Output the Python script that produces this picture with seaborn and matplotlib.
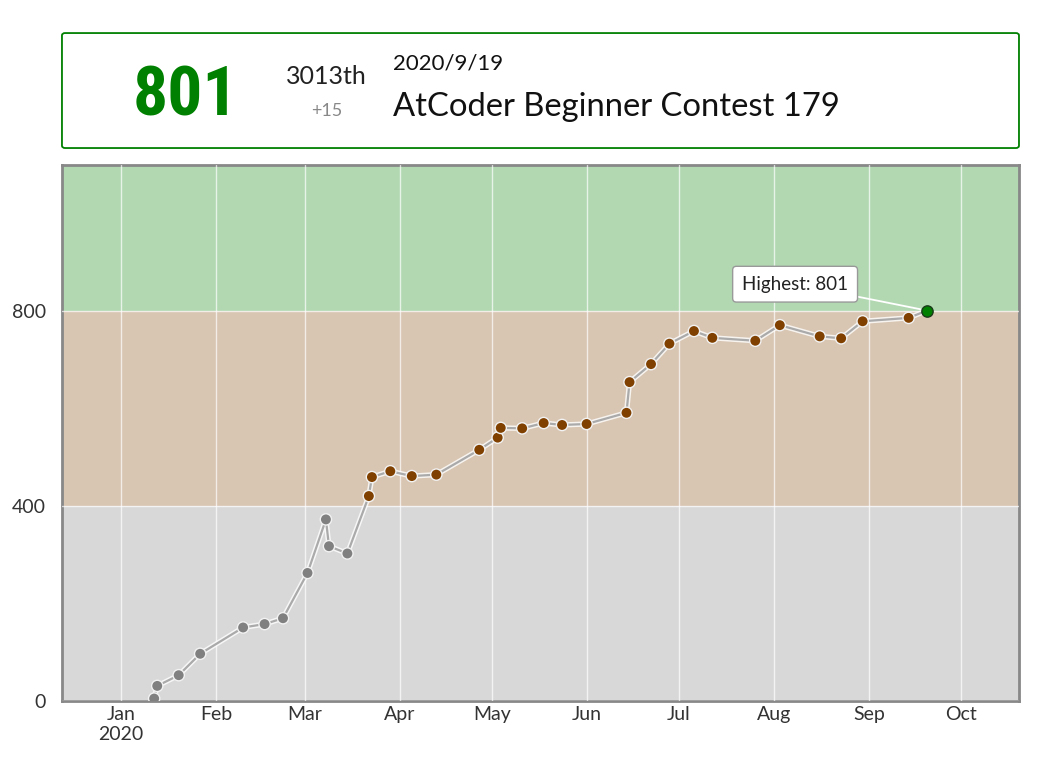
import pandas as pd
import matplotlib.pyplot as plt
import matplotlib.dates as mdates
import matplotlib.patheffects as pe
from matplotlib.patches import FancyBboxPatch
import seaborn as sns

# Contest history (date, rating)
dates = [
    "2020-01-11", "2020-01-12", "2020-01-19", "2020-01-26", "2020-02-09",
    "2020-02-16", "2020-02-22", "2020-03-01", "2020-03-07", "2020-03-08",
    "2020-03-14", "2020-03-21", "2020-03-22", "2020-03-28", "2020-04-04",
    "2020-04-12", "2020-04-26", "2020-05-02", "2020-05-03", "2020-05-10",
    "2020-05-17", "2020-05-23", "2020-05-31", "2020-06-13", "2020-06-14",
    "2020-06-21", "2020-06-27", "2020-07-05", "2020-07-11", "2020-07-25",
    "2020-08-02", "2020-08-15", "2020-08-22", "2020-08-29", "2020-09-13",
    "2020-09-19",
]
ratings = [
    4, 30, 52, 96, 150, 157, 169, 262, 372, 317,
    302, 420, 459, 471, 461, 464, 515, 540, 560, 559,
    570, 566, 568, 591, 654, 691, 733, 759, 745, 739,
    771, 748, 744, 779, 786, 801,
]

band_limits = [0, 400, 800, 1100]
band_colors = ["#d8d8d8", "#d8c5b2", "#b2d8b2"]
rank_names = ["gray", "brown", "green"]
rank_colors = {"gray": "#808080", "brown": "#804000", "green": "#008000"}

df = pd.DataFrame({
    "date": pd.to_datetime(dates) + pd.Timedelta(hours=20, minutes=30),
    "rating": ratings,
})
df["rank"] = pd.cut(df["rating"], bins=band_limits, labels=rank_names, right=False).astype(str)

sns.set_style("white")
plt.rcParams["font.family"] = ["Lato", "DejaVu Sans"]

fig = plt.figure(figsize=(10.45, 7.65), dpi=100)
ax = fig.add_axes([0.0593, 0.0843, 0.9158, 0.700])

# colour bands
for lo, hi, c in zip(band_limits[:-1], band_limits[1:], band_colors):
    ax.axhspan(lo, hi, color=c, zorder=0, lw=0)

# line
sns.lineplot(
    data=df, x="date", y="rating", color="#aaaaaa", lw=1.6, ax=ax, zorder=3,
    path_effects=[pe.Stroke(linewidth=3.8, foreground="white", alpha=0.8), pe.Normal()],
)

# points
best = df["rating"].idxmax()
sns.scatterplot(
    data=df.drop(index=best), x="date", y="rating", hue="rank", palette=rank_colors,
    s=66, edgecolor="#f2f2f2", linewidth=1, legend=False, ax=ax, zorder=4,
)
sns.scatterplot(
    data=df.loc[[best]], x="date", y="rating", hue="rank", palette=rank_colors,
    s=66, edgecolor="#1a3a1a", linewidth=1, legend=False, ax=ax, zorder=5,
)

# highest label
ax.annotate(
    f"Highest: {df.loc[best, 'rating']}",
    xy=(df.loc[best, "date"], df.loc[best, "rating"]),
    xytext=(-95, 19), textcoords="offset points",
    ha="center", va="center", fontsize=13.5, color="#222222",
    bbox=dict(boxstyle="round,pad=0.5,rounding_size=0.2", fc="white", ec="#999999", lw=1),
    arrowprops=dict(arrowstyle="-", color="white", lw=1.3, shrinkA=0, shrinkB=5),
    zorder=6,
)

# axes
ax.set_xlim(pd.Timestamp("2019-12-12 19:00"), pd.Timestamp("2020-10-19 20:00"))
ax.set_ylim(0, 1100)
ax.set_yticks([0, 400, 800])
ax.xaxis.set_major_locator(mdates.MonthLocator())
ax.xaxis.set_major_formatter(plt.FuncFormatter(
    lambda v, _: mdates.num2date(v).strftime("%b\n%Y") if mdates.num2date(v).month == 1
    else mdates.num2date(v).strftime("%b")))
ax.grid(True, color="white", alpha=0.7, lw=1)
ax.set_axisbelow(False)
for gl in ax.get_xgridlines() + ax.get_ygridlines():
    gl.set_zorder(1)
ax.tick_params(axis="x", length=0, pad=4, labelsize=14, labelcolor="#333333")
ax.tick_params(axis="y", length=0, pad=11.5, labelsize=14, labelcolor="#333333")
ax.set_xlabel("")
ax.set_ylabel("")
for s in ax.spines.values():
    s.set_color("#888888")
    s.set_linewidth(2)

# header card
card = FancyBboxPatch(
    (0.0593, 0.8065), 0.9158, 0.1503, boxstyle="round,pad=0,rounding_size=0.003",
    transform=fig.transFigure, fc="white", ec="#008000", lw=1.3,
)
fig.add_artist(card)
fig.text(0.177, 0.8484, "801", fontsize=50, fontweight="bold", fontstretch="condensed",
         color="#008000", family=["Roboto Condensed", "DejaVu Sans"],
         ha="center", va="baseline")
fig.text(0.3125, 0.890, "3013th", fontsize=18, color="#222222", ha="center", va="baseline")
fig.text(0.3125, 0.848, "+15", fontsize=13, color="#888888", ha="center", va="baseline")
fig.text(0.376, 0.909, "2020/9/19", fontsize=16, color="#111111", ha="left", va="baseline")
fig.text(0.376, 0.849, "AtCoder Beginner Contest 179", fontsize=23.6, color="#111111",
         ha="left", va="baseline")

plt.savefig("out.png", dpi=100)
